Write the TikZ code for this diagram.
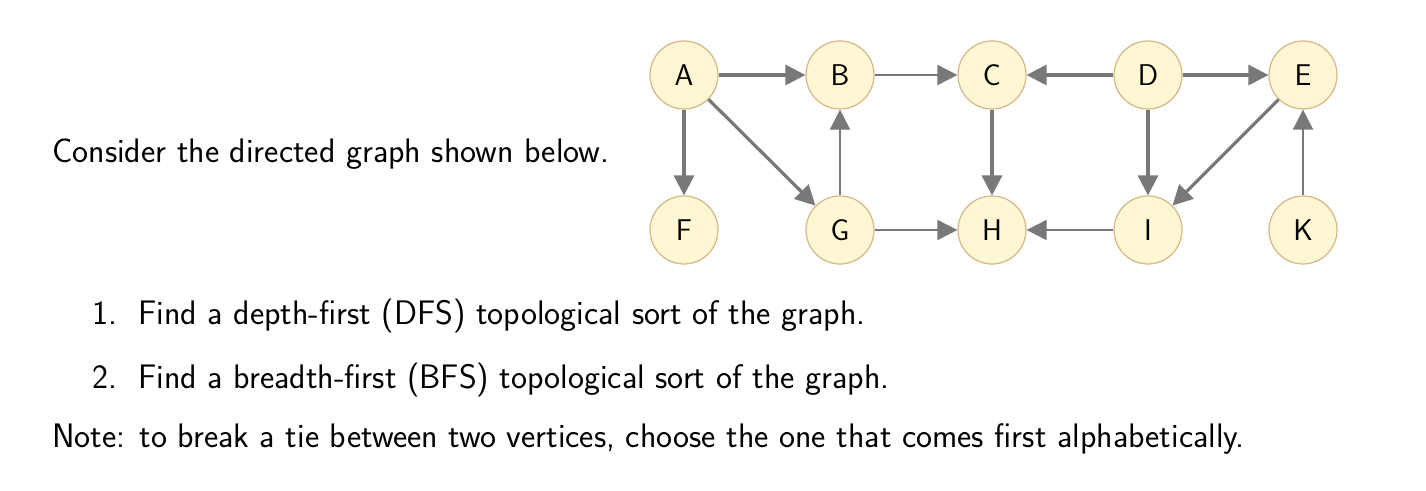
\documentclass[tikz,border=0pt]{standalone}
\usetikzlibrary{arrows.meta}
\definecolor{vfill}{RGB}{255,246,212}
\definecolor{vdraw}{RGB}{212,182,135}
\definecolor{edge}{RGB}{120,120,120}
\begin{document}
\begin{tikzpicture}[x=1pt,y=-1pt,
  vert/.style={circle,draw=vdraw,line width=1.2pt,fill=vfill,minimum size=68pt,inner sep=0pt,font=\fontsize{30}{32}\sffamily},
  thk/.style={draw=edge,line width=3.2pt,-{Triangle[length=20pt,width=20pt]}},
  thn/.style={draw=edge,line width=1.8pt,-{Triangle[length=20pt,width=20pt]}},
  txt/.style={anchor=base west,inner sep=0pt,font=\fontsize{34}{40}\sffamily}]
\useasboundingbox (0,0) rectangle (1426,490);
\node[vert] (A) at (684,75) {A};
\node[vert] (B) at (840,75) {B};
\node[vert] (C) at (992,75) {C};
\node[vert] (D) at (1148,75) {D};
\node[vert] (E) at (1303,75) {E};
\node[vert] (F) at (684,230) {F};
\node[vert] (G) at (840,230) {G};
\node[vert] (H) at (992,230) {H};
\node[vert] (I) at (1148,230) {I};
\node[vert] (K) at (1303,230) {K};
\draw[thk] (A) -- (B);
\draw[thn] (B) -- (C);
\draw[thk] (D) -- (C);
\draw[thk] (D) -- (E);
\draw[thk] (A) -- (F);
\draw[thk] (A) -- (G);
\draw[thn] (G) -- (B);
\draw[thk] (C) -- (H);
\draw[thk] (D) -- (I);
\draw[thk] (E) -- (I);
\draw[thn] (K) -- (E);
\draw[thn] (G) -- (H);
\draw[thn] (I) -- (H);
\node[txt] (t0) at (52,162) {Consider the directed graph shown below.};
\node[txt] (t1) at (92,324) {1.\ \ Find a depth-first (DFS) topological sort of the graph.};
\node[txt] (t2) at (92,388) {2.\ \ Find a breadth-first (BFS) topological sort of the graph.};
\node[txt] (t3) at (52,447) {Note: to break a tie between two vertices, choose the one that comes first alphabetically.};
\end{tikzpicture}
\end{document}
